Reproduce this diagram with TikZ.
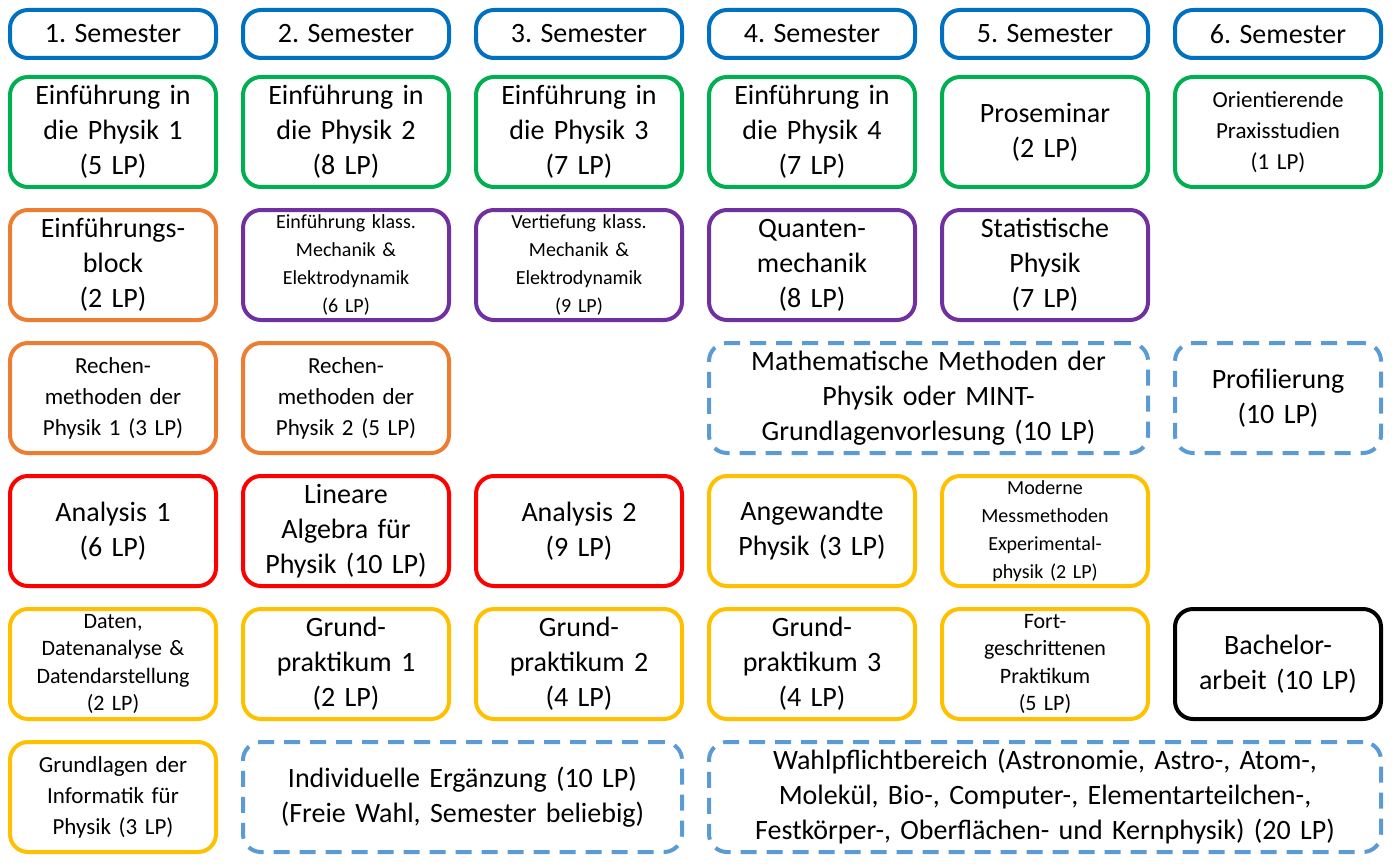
\documentclass[tikz,border=0pt]{standalone}
\usepackage{fontspec}
\setmainfont{Carlito}
\usepackage{tikz}

\definecolor{semblau}{HTML}{0070C0}
\definecolor{gruen}{HTML}{00B050}
\definecolor{orange}{HTML}{ED7D31}
\definecolor{lila}{HTML}{7030A0}
\definecolor{rot}{HTML}{FF0000}
\definecolor{gelb}{HTML}{FFC000}
\definecolor{hellblau}{HTML}{5B9BD5}

\tikzset{
  box/.style = {draw, line width = 2pt, rounded corners = 9pt, align = center,
                inner sep = 0pt, minimum height = 55pt, font = \fontsize{14}{17.5}\selectfont},
  klein/.style = {font = \fontsize{11.5}{15.5}\selectfont},
  eng/.style = {font = \fontsize{11}{13.8}\selectfont},
  winzig/.style = {font = \fontsize{10}{14}\selectfont},
  wahl/.style = {draw = hellblau, dashed, dash pattern = on 8pt off 5pt}
}

% column c, row r, span s, style, name
\newcommand{\modul}[5]{%
  \node[box, #4, minimum width = {(233*#3 - 27)*0.5pt}, text width = {(233*#3 - 40)*0.5pt}]
    (#5) at ({10 + (233*#3 - 27)/2 + 233*(#1 - 1)}, {77 + 55 + 133*(#2 - 1)})}

\begin{document}
\begin{tikzpicture}[x = 0.5pt, y = -0.5pt]
            \useasboundingbox (0,0) rectangle (1400,866);
            
            \foreach \s in {1,...,6}
              \node[box, draw = semblau, minimum width = 103pt, minimum height = 24pt]
                (sem\s) at ({113 + 233*(\s - 1)}, 34) {\s. Semester};
            
            \modul{1}{1}{1}{draw = gruen}{ep1} {Einführung in\\die Physik 1\\(5 LP)};
            \modul{2}{1}{1}{draw = gruen}{ep2} {Einführung in\\die Physik 2\\(8 LP)};
            \modul{3}{1}{1}{draw = gruen}{ep3} {Einführung in\\die Physik 3\\(7 LP)};
            \modul{4}{1}{1}{draw = gruen}{ep4} {Einführung in\\die Physik 4\\(7 LP)};
            \modul{5}{1}{1}{draw = gruen}{prosem} {Proseminar\\(2 LP)};
            \modul{6}{1}{1}{draw = gruen, klein}{ops} {Orientierende\\Praxisstudien\\(1 LP)};
            
            \modul{1}{2}{1}{draw = orange}{eblock} {Einführungs-\\block\\(2 LP)};
            \modul{2}{2}{1}{draw = lila, winzig}{mech1} {Einführung klass.\\Mechanik \&\\Elektrodynamik\\(6 LP)};
            \modul{3}{2}{1}{draw = lila, winzig}{mech2} {Vertiefung klass.\\Mechanik \&\\Elektrodynamik\\(9 LP)};
            \modul{4}{2}{1}{draw = lila}{qm} {Quanten-\\mechanik\\(8 LP)};
            \modul{5}{2}{1}{draw = lila}{stat} {Statistische\\Physik\\(7 LP)};
            
            \modul{1}{3}{1}{draw = orange, klein}{rm1} {Rechen-\\methoden der\\Physik 1 (3 LP)};
            \modul{2}{3}{1}{draw = orange, klein}{rm2} {Rechen-\\methoden der\\Physik 2 (5 LP)};
            \modul{4}{3}{2}{wahl}{mmp} {Mathematische Methoden der\\Physik oder MINT-\\Grundlagenvorlesung (10 LP)};
            \modul{6}{3}{1}{wahl}{profil} {Profilierung\\(10 LP)};
            
            \modul{1}{4}{1}{draw = rot}{ana1} {Analysis 1\\(6 LP)};
            \modul{2}{4}{1}{draw = rot}{linalg} {Lineare\\Algebra für\\Physik (10 LP)};
            \modul{3}{4}{1}{draw = rot}{ana2} {Analysis 2\\(9 LP)};
            \modul{4}{4}{1}{draw = gelb}{angew} {Angewandte\\Physik (3 LP)};
            \modul{5}{4}{1}{draw = gelb, winzig}{mess} {Moderne\\Messmethoden\\Experimental-\\physik (2 LP)};
            
            \modul{1}{5}{1}{draw = gelb, eng}{daten} {Daten,\\Datenanalyse \&\\Datendarstellung\\(2 LP)};
            \modul{2}{5}{1}{draw = gelb}{gp1} {Grund-\\praktikum 1\\(2 LP)};
            \modul{3}{5}{1}{draw = gelb}{gp2} {Grund-\\praktikum 2\\(4 LP)};
            \modul{4}{5}{1}{draw = gelb}{gp3} {Grund-\\praktikum 3\\(4 LP)};
            \modul{5}{5}{1}{draw = gelb, eng}{fp} {Fort-\\geschrittenen\\Praktikum\\(5 LP)};
            \modul{6}{5}{1}{draw = black}{bach} {Bachelor-\\arbeit (10 LP)};
            
            \modul{1}{6}{1}{draw = gelb, klein}{info} {Grundlagen der\\Informatik für\\Physik (3 LP)};
            \modul{2}{6}{2}{wahl}{indiv} {Individuelle Ergänzung (10 LP)\\(Freie Wahl, Semester beliebig)};
            \modul{4}{6}{3}{wahl}{wpb} {Wahlpflichtbereich (Astronomie, Astro-, Atom-,\\Molekül, Bio-, Computer-, Elementarteilchen-,\\Festkörper-, Oberflächen- und Kernphysik) (20 LP)};
    \end{tikzpicture}
\end{document}
